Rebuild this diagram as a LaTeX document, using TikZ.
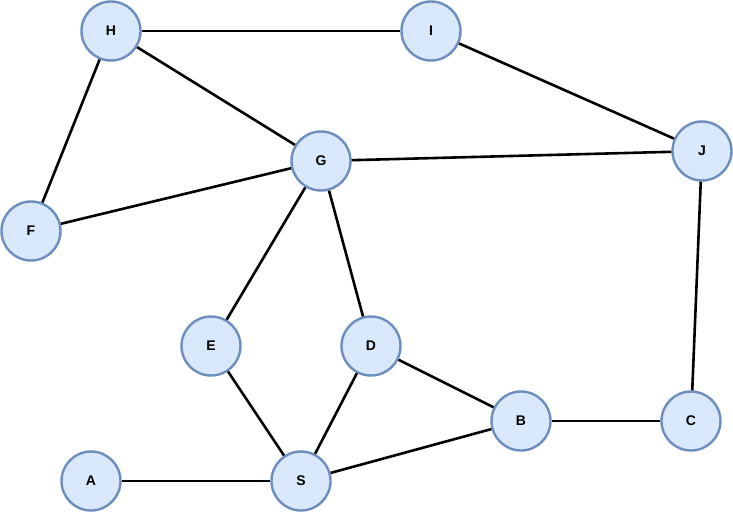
\documentclass[tikz,border=0pt]{standalone}
\usepackage{fontspec}
\setmainfont{Liberation Sans}
\definecolor{nfill}{HTML}{DAE8FC}
\definecolor{nline}{HTML}{6C8EBF}
\begin{document}
\begin{tikzpicture}[x=1pt,y=-1pt,
  vtx/.style={circle,draw=nline,fill=nfill,line width=2.4pt,minimum size=59pt,inner sep=0pt,font=\fontsize{14}{14}\selectfont\bfseries},
  edge/.style={line width=2.6pt,black}]
\useasboundingbox (0,0) rectangle (733,513);
\node[vtx] (H) at (111,31) {H};
\node[vtx] (I) at (431,31) {I};
\node[vtx] (J) at (702,151) {J};
\node[vtx] (G) at (321,161) {G};
\node[vtx] (F) at (31,231) {F};
\node[vtx] (E) at (211,346) {E};
\node[vtx] (D) at (371,346) {D};
\node[vtx] (B) at (521,421) {B};
\node[vtx] (C) at (691,421) {C};
\node[vtx] (A) at (91,481) {A};
\node[vtx] (S) at (301,481) {S};
\draw[edge] (H) -- (I);
\draw[edge] (I) -- (J);
\draw[edge] (H) -- (F);
\draw[edge] (H) -- (G);
\draw[edge] (G) -- (J);
\draw[edge] (G) -- (F);
\draw[edge] (G) -- (E);
\draw[edge] (G) -- (D);
\draw[edge] (J) -- (C);
\draw[edge] (E) -- (S);
\draw[edge] (D) -- (S);
\draw[edge] (D) -- (B);
\draw[edge] (B) -- (C);
\draw[edge] (S) -- (B);
\draw[edge] (A) -- (S);
\end{tikzpicture}
\end{document}
